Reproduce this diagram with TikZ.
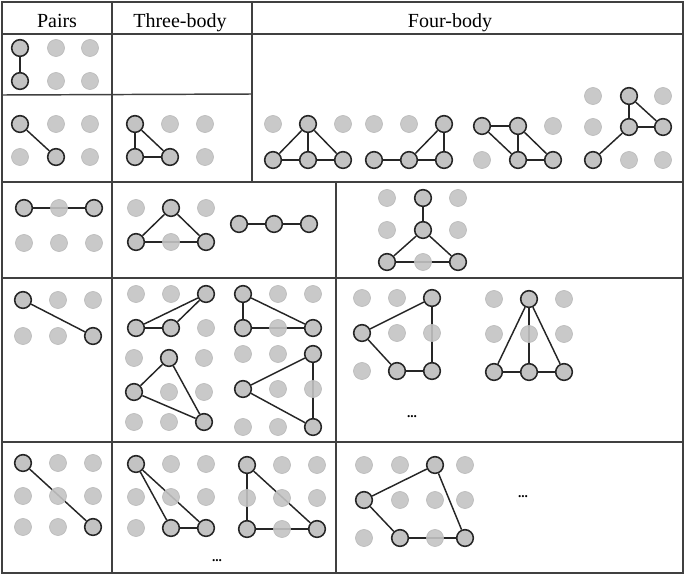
\documentclass[tikz,border=0pt]{standalone}
\usepackage{fontspec}
\setmainfont{Liberation Serif}
\begin{document}
\begin{tikzpicture}[x=0.75pt,y=-0.75pt,
  bn/.style={circle, draw=black!85, line width=1.15pt, fill=gray!47, minimum size=12.5pt, inner sep=0pt},
  gn/.style={circle, draw=gray!55, line width=0.5pt, fill=gray!47, minimum size=12.8pt, inner sep=0pt, opacity=0.9},
  ed/.style={line width=1.1pt, draw=black!85},
  grid/.style={line width=1.1pt, draw=black!75},
  hdr/.style={font=\fontsize{15}{17}\selectfont, inner sep=0pt, anchor=base},
  more/.style={font=\fontsize{10}{12}\selectfont\bfseries, inner sep=0pt}]
\useasboundingbox (0,0) rectangle (685,575);
% table
\draw[grid] (2,2) rectangle (683,573);
\draw[grid] (2,34) -- (683,34);
\draw[grid] (112,2) -- (112,573);
\draw[grid] (252,2) -- (252,182);
\draw[grid] (2,95) -- (252,94);
\draw[grid] (2,182) -- (683,182);
\draw[grid] (336,182) -- (336,573);
\draw[grid] (2,278) -- (683,278);
\draw[grid] (2,442) -- (683,442);
% headers
\node[hdr] (hp) at (57,27) {Pairs};
\node[hdr] (ht) at (180,27) {Three-body};
\node[hdr] (hf) at (450,27) {Four-body};
% black nodes
\foreach \n/\x/\y in {a1/20/48,a2/20/81,b1/20/124,b2/56/157,
  c1/135/124,c2/135/157,c3/170/157,
  d1/308/124,d2/273/160,d3/308/160,d4/343/160,
  e1/444/124,e2/374/160,e3/409/160,e4/444/160,
  f1/482/126,f2/518/126,f3/518/160,f4/553/160,
  h1/629/96,h2/629/127,h3/663/127,h4/593/160,
  i1/24/208,i2/94/208,
  j1/171/208,j2/136/242,j3/206/242,
  k1/239/224,k2/274/224,k3/309/224,
  l1/423/198,l2/423/230,l3/387/262,l4/458/262,
  m1/23/300,m2/93/336,
  n1/206/294,n2/136/328,n3/171/328,
  o1/243/294,o2/243/328,o3/313/328,
  q1/169/358,q2/134/392,q3/204/422,
  r1/313/354,r2/243/389,r3/313/427,
  s1/432/298,s2/362/333,s3/397/371,s4/432/371,
  t1/529/299,t2/494/372,t3/529/372,t4/564/372,
  u1/23/463,u2/93/527,
  v1/136/464,v2/171/528,v3/206/528,
  w1/247/465,w2/247/529,w3/317/529,
  z1/435/465,z2/364/500,z3/400/538,z4/465/538}
  \node[bn] (\n) at (\x,\y) {};
% edges
\foreach \p/\q in {a1/a2,b1/b2,c1/c2,c1/c3,c2/c3,
  d1/d2,d1/d3,d1/d4,d2/d3,d3/d4,
  e2/e3,e3/e4,e3/e1,e1/e4,
  f1/f2,f1/f3,f2/f3,f2/f4,f3/f4,
  h1/h2,h1/h3,h2/h3,h2/h4,
  i1/i2,j1/j2,j1/j3,j2/j3,k1/k2,k2/k3,
  l1/l2,l2/l3,l2/l4,l3/l4,
  m1/m2,n2/n1,n3/n1,n2/n3,o1/o2,o1/o3,o2/o3,
  q1/q2,q1/q3,q2/q3,r1/r2,r1/r3,r2/r3,
  s1/s2,s1/s4,s2/s3,s3/s4,
  t1/t2,t1/t3,t1/t4,t2/t3,t3/t4,
  u1/u2,v1/v2,v1/v3,v2/v3,w1/w2,w1/w3,w2/w3,
  z1/z2,z1/z4,z2/z3,z3/z4}
  \draw[ed] (\p) -- (\q);
% gray dots
\foreach \x/\y [count=\k] in {56/48,90/48,56/81,90/81,
  56/124,90/124,20/157,90/157,
  170/124,205/124,205/157,
  273/124,343/124,374/124,409/124,553/126,482/160,
  593/96,663/96,593/127,629/160,663/160,
  59/208,24/243,59/243,94/243,
  136/208,206/208,171/242,
  387/198,458/198,387/230,458/230,423/262,
  58/300,93/300,23/336,58/336,
  136/294,171/294,206/328,
  278/294,313/294,278/328,
  134/358,204/358,169/392,204/392,134/422,169/422,
  243/354,278/354,278/389,313/389,243/427,278/427,
  362/298,397/298,397/333,432/333,362/371,
  494/299,564/299,494/334,529/334,564/334,
  58/463,93/463,23/496,58/496,93/496,23/527,58/527,
  171/464,206/464,136/497,171/497,206/497,136/528,
  282/465,317/465,247/498,282/498,317/498,282/529,
  364/465,400/465,465/465,400/500,435/500,465/500,364/538,435/538}
  \node[gn] (g\k) at (\x,\y) {};
% ellipses
\node[more] (dd1) at (412,417) {...};
\node[more] (dd2) at (217,561) {...};
\node[more] (dd3) at (523,497) {...};
\end{tikzpicture}
\end{document}
